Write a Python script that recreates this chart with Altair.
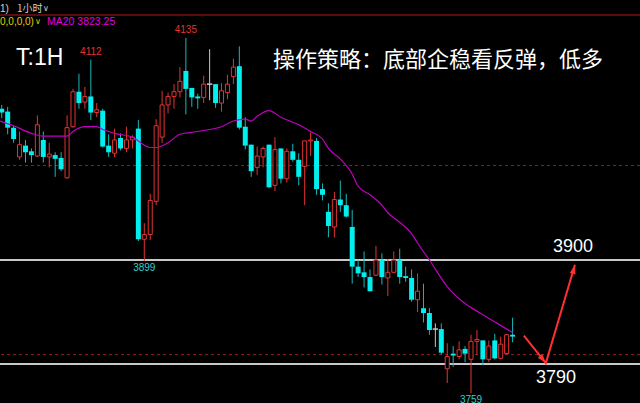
import altair as alt
import pandas as pd

# Hourly candles, oldest first
opens = [4060, 4057, 4040, 4009, 4021, 4015, 4010, 4027, 4009, 4011,
         4008, 3987, 4041, 4078, 4067, 4073, 4056, 4058, 4021, 4013,
         4029, 4018, 4027, 4039, 3922, 3927, 3962, 4030, 4064, 4073,
         4078, 4100, 4082, 4073, 4072, 4086, 4086, 4066, 4077, 4094,
         4105, 4041, 4022, 3998, 4009, 4022, 3979, 4018, 3986, 4015,
         4006, 3999, 4026, 4026, 3975, 3951, 3935, 3964, 3958, 3935,
         3893, 3887, 3882, 3884, 3900, 3881, 3887, 3900, 3883, 3881,
         3858, 3849, 3844, 3827, 3827, 3785, 3801, 3798, 3806, 3795,
         3814, 3815, 3795, 3815, 3796, 3801, 3821]
highs = [4064, 4062, 4042, 4036, 4027, 4018, 4053, 4036, 4024, 4014,
         4014, 4053, 4081, 4097, 4083, 4112, 4066, 4060, 4033, 4039,
         4034, 4041, 4032, 4048, 3939, 3970, 4049, 4079, 4077, 4086,
         4104, 4135, 4082, 4076, 4095, 4123, 4086, 4087, 4096, 4113,
         4126, 4051, 4022, 4020, 4020, 4022, 4030, 4018, 4018, 4023,
         4013, 4026, 4035, 4029, 3981, 3960, 3972, 3984, 3970, 3953,
         3900, 3909, 3890, 3915, 3907, 3901, 3909, 3912, 3893, 3890,
         3886, 3875, 3849, 3833, 3833, 3812, 3809, 3814, 3809, 3821,
         3826, 3815, 3815, 3822, 3819, 3822, 3839]
lows = [4050, 4033, 4024, 4006, 4003, 4003, 4009, 4003, 3998, 3988,
        3994, 3986, 4040, 4060, 4060, 4048, 4051, 4019, 4009, 4009,
        4016, 4014, 4018, 3920, 3899, 3921, 3958, 4024, 4055, 4060,
        4072, 4054, 4062, 4060, 4066, 4069, 4061, 4057, 4070, 4086,
        4038, 4017, 3988, 3990, 3998, 3976, 3973, 3981, 3982, 4004,
        3979, 3958, 4010, 3969, 3963, 3924, 3924, 3951, 3945, 3875,
        3882, 3871, 3867, 3883, 3874, 3862, 3887, 3875, 3877, 3856,
        3845, 3834, 3821, 3808, 3800, 3770, 3787, 3795, 3792, 3759,
        3800, 3789, 3792, 3795, 3795, 3800, 3813]
closes = [4056, 4040, 4028, 4022, 4014, 4011, 4043, 4009, 4012, 4007,
          3996, 4040, 4078, 4066, 4073, 4056, 4059, 4020, 4014, 4027,
          4018, 4027, 4030, 3922, 3927, 3963, 4042, 4064, 4073, 4078,
          4089, 4081, 4072, 4071, 4086, 4086, 4066, 4079, 4086, 4104,
          4040, 4021, 3994, 4010, 4018, 3977, 4017, 3986, 4015, 4006,
          3988, 4026, 4027, 3975, 3969, 3936, 3964, 3958, 3946, 3893,
          3886, 3882, 3867, 3900, 3882, 3887, 3900, 3882, 3881, 3858,
          3867, 3844, 3826, 3827, 3802, 3798, 3799, 3805, 3801, 3814,
          3816, 3795, 3809, 3796, 3811, 3821, 3819]

# MA20 trace (candle position, value)
ma_idx = [-0.3, 2, 5, 7, 11, 12, 14, 16, 17, 19, 22, 25, 26, 28, 30, 32,
          34, 37, 39, 41, 42, 43, 45, 47, 50, 52, 54, 55, 57, 59, 60, 62,
          64, 65, 67, 69, 70, 72, 75, 78, 80.5, 83.4, 86]
ma_val = [4047, 4042, 4034, 4031, 4031, 4036, 4041, 4041, 4038, 4034, 4030,
          4019, 4019, 4024, 4033, 4035, 4037, 4041, 4047, 4049, 4047, 4052,
          4058, 4051, 4043, 4036, 4028, 4018, 4007, 3991, 3978, 3969, 3958,
          3950, 3940, 3928, 3918, 3900, 3872, 3854, 3844, 3833, 3823.25]

# marked extremes
ext_idx = [15, 31, 24, 79]
ext_txt = ["4112", "4135", "3899", "3759"]
ext_kind = ["high", "high", "low", "low"]

upper_level, lower_level = 3900, 3790
dash_levels = [4000, 3800]

# planned path: dip to support, then rebound
path_idx = [87.9, 91.6, 96.5]
path_px = [3820, 3791, 3895]

RED = "#e03434"
CYAN = "#00f0f0"
CYAN_WICK = "#19b8b8"
GRAY = "#c8c8c8"

n = len(opens)
kind = ["up" if c > o else ("down" if c < o else "flat") for o, c in zip(opens, closes)]
candles = pd.DataFrame({"i": list(range(n)), "open": opens, "high": highs,
                        "low": lows, "close": closes, "kind": kind})

X = alt.Scale(domain=[-0.29, 107.45], nice=False, zero=False)
Y = alt.Scale(domain=[3748.8, 4175], nice=False, zero=False)


def xq(f):
    return alt.X(f, type="quantitative", scale=X, axis=None)


def yq(f):
    return alt.Y(f, type="quantitative", scale=Y, axis=None)


dashed = alt.Chart(pd.DataFrame({"lv": dash_levels})).mark_rule(
    color="#9a1c1c", strokeDash=[3, 3], strokeWidth=1).encode(y=yq("lv"))
solid = alt.Chart(pd.DataFrame({"lv": [upper_level, lower_level]})).mark_rule(
    color=GRAY, strokeWidth=2).encode(y=yq("lv"))

base = alt.Chart(candles)
wicks = base.mark_rule(strokeWidth=1).encode(
    x=xq("i"), y=yq("high"), y2="low",
    color=alt.Color("kind:N", legend=None,
                    scale=alt.Scale(domain=["up", "down", "flat"],
                                    range=[RED, CYAN_WICK, GRAY])))
down_body = base.transform_filter("datum.kind == 'down'").transform_calculate(
    x0="datum.i - 0.42", x1="datum.i + 0.42").mark_rect(color=CYAN).encode(
    x=xq("x0"), x2="x1", y=yq("open"), y2="close")
up_body = base.transform_filter("datum.kind == 'up'").transform_calculate(
    x0="datum.i - 0.34", x1="datum.i + 0.34").mark_rect(
    fill="black", stroke=RED, strokeWidth=1).encode(
    x=xq("x0"), x2="x1", y=yq("open"), y2="close")
flat_body = base.transform_filter("datum.kind == 'flat'").transform_calculate(
    x0="datum.i - 0.45", x1="datum.i + 0.45").mark_rule(
    color=GRAY, strokeWidth=1.5).encode(x=xq("x0"), x2="x1", y=yq("open"))

ma = alt.Chart(pd.DataFrame({"i": ma_idx, "v": ma_val})).mark_line(
    color="#c000c0", strokeWidth=1.2, interpolate="monotone").encode(
    x=xq("i"), y=yq("v"))

ext = pd.DataFrame({"i": ext_idx, "t": ext_txt, "k": ext_kind})
ext["p"] = [highs[i] if k == "high" else lows[i] for i, k in zip(ext_idx, ext_kind)]
ext_hi = alt.Chart(ext).transform_filter("datum.k == 'high'").mark_text(
    color=RED, fontSize=10, font="Liberation Sans", dy=-8).encode(
    x=xq("i"), y=yq("p"), text="t:N")
ext_lo = alt.Chart(ext).transform_filter("datum.k == 'low'").mark_text(
    color="#30d0d0", fontSize=10, font="Liberation Sans", dy=7).encode(
    x=xq("i"), y=yq("p"), text="t:N")

path_df = pd.DataFrame({"i": path_idx, "p": path_px, "s": [0, 1, 2]})
path = alt.Chart(path_df).mark_line(color="#ff3030", strokeWidth=2).encode(
    x=xq("i"), y=yq("p"), order="s:Q")
head_shape = "M0,0L0.7,2.2L-0.7,2.2Z"
head1 = alt.Chart(path_df.iloc[[1]]).mark_point(
    shape=head_shape, filled=True, color="#ff3030", opacity=1, size=70, angle=141
).encode(x=xq("i"), y=yq("p"))
head2 = alt.Chart(path_df.iloc[[2]]).mark_point(
    shape=head_shape, filled=True, color="#ff3030", opacity=1, size=70, angle=15
).encode(x=xq("i"), y=yq("p"))

up_label = alt.Chart(pd.DataFrame({"lv": [upper_level], "t": [str(upper_level)]})).mark_text(
    color="white", fontSize=18, font="Liberation Sans", dy=-13).encode(
    y=yq("lv"), text="t:N", x=alt.value(573))
low_label = alt.Chart(pd.DataFrame({"lv": [lower_level], "t": [str(lower_level)]})).mark_text(
    color="white", fontSize=18, font="Liberation Sans", dy=14).encode(
    y=yq("lv"), text="t:N", x=alt.value(556))


def label(txt, x, y, color, size, font="Noto Sans CJK SC", align="left"):
    return alt.Chart(pd.DataFrame({"t": [txt]})).mark_text(
        color=color, fontSize=size, font=font, align=align, baseline="middle"
    ).encode(text="t:N", x=alt.value(x), y=alt.value(y))


top_line = alt.Chart(pd.DataFrame({"a": [0]})).mark_rule(
    color="#7a1010", strokeWidth=1.5).encode(
    x=alt.value(0), x2=alt.value(640), y=alt.value(15))

texts = [
    label("1)", 0, 9, "#d0d0d0", 10, font="Liberation Sans"),
    label("1小时", 17, 9, "#d0d0d0", 10),
    label("∨", 43, 9, "#d0d0d0", 8, font="DejaVu Sans"),
    label("0,0,0,0)", 0, 22, "#e0d000", 10, font="Liberation Sans"),
    label("∨", 35, 22, "#e0d000", 8, font="DejaVu Sans"),
    label("MA20 3823.25", 47, 22, "#e000e0", 10.5, font="Liberation Sans"),
    label("T:1H", 16, 58, "white", 23, font="Liberation Sans"),
    label("操作策略：底部企稳看反弹，低多", 273, 60, "white", 22),
]

chart = alt.layer(
    dashed, solid, wicks, down_body, up_body, flat_body, ma,
    ext_hi, ext_lo, path, head1, head2, up_label, low_label, top_line, *texts
).properties(width=640, height=403, background="black", padding=0,
             autosize=alt.AutoSizeParams(type="none")
).configure_view(stroke=None)

chart.save("out.html", embed_options={"renderer": "svg", "actions": False})
